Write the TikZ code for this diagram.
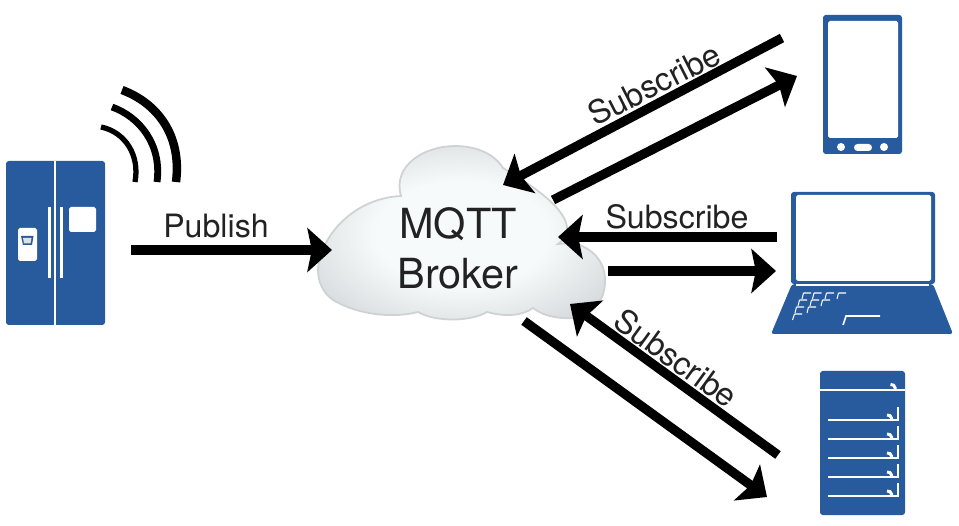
\documentclass[tikz,border=0pt]{standalone}
\usepackage{fontspec}
\setmainfont{TeX Gyre Heros}
\usetikzlibrary{arrows.meta}
\definecolor{iconblue}{HTML}{285B9E}
\definecolor{inktext}{HTML}{222222}
\definecolor{cloudedge}{HTML}{CDD2D4}
\definecolor{cloudcentre}{HTML}{F6FAFB}
\definecolor{cloudrim}{HTML}{D6DADC}
\pgfdeclareradialshading{cloudglow}{\pgfpointorigin}{
	color(0bp)=(cloudcentre);
	color(15bp)=(cloudcentre);
	color(31bp)=(cloudrim);
	color(50bp)=(cloudrim)
}
\tikzset{
	flow/.style={line width=5.3pt, black, -{Stealth[length=14pt,width=25pt,inset=2.5pt]}},
	wave/.style={black},
	icon/.style={fill=iconblue, rounded corners=1.6pt},
	cutout/.style={fill=white, rounded corners=1pt},
	thinline/.style={white, line width=.6pt},
	caption/.style={font=\fontsize{18.3}{20}\selectfont, text=inktext, inner sep=0pt},
	bigcaption/.style={font=\fontsize{23.6}{25}\selectfont, text=inktext, inner sep=0pt}
}
\begin{document}
\begin{tikzpicture}[x=.02cm, y=-.02cm]
	\useasboundingbox (0, 0) rectangle (959, 526);

	\draw[draw=cloudedge, line width=1pt, shading=cloudglow]
		(318, 270) .. controls (320, 235) and (355, 198) .. (401, 196)
		.. controls (392, 165) and (425, 146) .. (455, 146)
		.. controls (478, 146) and (495, 155) .. (503, 168)
		.. controls (520, 178) and (565, 205) .. (567, 227)
		.. controls (568, 233) and (566, 238) .. (558, 244)
		.. controls (568, 243) and (578, 243) .. (582, 246)
		.. controls (596, 252) and (606, 265) .. (605, 283)
		.. controls (604, 304) and (590, 316) .. (573, 318)
		.. controls (555, 319) and (542, 315) .. (533, 308)
		.. controls (522, 316) and (505, 317) .. (487, 312)
		.. controls (470, 322) and (435, 322) .. (418, 312)
		.. controls (395, 318) and (360, 316) .. (333, 300)
		.. controls (323, 293) and (318, 282) .. (318, 270) -- cycle;
	\node[bigcaption] (mqtt) at (458, 224) {MQTT};
	\node[bigcaption] (broker) at (458, 274) {Broker};

	\draw[wave, line width=3pt] (101, 127) .. controls (125, 132) and (140, 155) .. (135, 182);
	\draw[wave, line width=3.9pt] (112, 107) .. controls (140, 117) and (162, 145) .. (157, 182);
	\draw[wave, line width=4.8pt] (122, 90) .. controls (157, 103) and (182, 135) .. (176, 182);

	\fill[icon] (6, 161) rectangle (105, 325);
	\draw[white, line width=.9pt] (55, 161) -- (55, 325);
	\fill[white] (48, 207) rectangle (51, 278);
	\fill[white] (59.5, 207) rectangle (62.5, 278);
	\fill[cutout] (69, 207) rectangle (96, 232);
	\fill[cutout] (18, 228) rectangle (37, 261);
	\fill[iconblue] (21, 236) -- (33.5, 236) -- (32, 245) -- (23, 245) -- cycle;
	\fill[black!12] (23, 238) -- (31.5, 238) -- (30.5, 243.5) -- (24, 243.5) -- cycle;

	\fill[icon] (823, 15) rectangle (902, 154);
	\fill[cutout] (828, 21) rectangle (898, 138);
	\fill[white] (841, 147) circle (4);
	\fill[white] (884, 147) circle (4);
	\fill[white, rounded corners=2pt] (854, 144) rectangle (872, 151);

	\fill[icon] (791, 192) rectangle (935, 284);
	\fill[cutout] (796, 195) rectangle (931, 281);
	\fill[icon] (792, 284) -- (933, 284) -- (953, 334) -- (771, 334) -- cycle;
	\draw[white, line width=.7pt] (796, 285) -- (929, 285);
	\foreach \x in {802, 812.5, 825, 837}
		\draw[thinline] (\x + 1.5, 293) -- (\x + 9, 293) (\x + 1.5, 293) -- (\x, 299);
	\foreach \x in {798, 810, 821}
		\draw[thinline] (\x + 1.5, 300) -- (\x + 9, 300) (\x + 1.5, 300) -- (\x, 306);
	\foreach \x in {795, 807}
		\draw[thinline] (\x + 1.5, 307) -- (\x + 9, 307) (\x + 1.5, 307) -- (\x, 313);
	\draw[thinline] (794.5, 314) -- (802, 314) (794.5, 314) -- (792.5, 320);
	\draw[white, line width=.9pt] (843, 325) -- (846, 316) -- (880, 316);

	\fill[icon] (820, 371) rectangle (905, 515);
	\draw[white, line width=1pt] (820, 390) -- (905, 390);
	\draw[white, line width=1.7pt] (890.5, 384.5) arc[start angle=-100, end angle=20, radius=4];
	\foreach \y in {420, 439, 458, 477, 496}
		{
			\draw[white, line width=1pt] (828, \y) -- (898, \y) -- (898, \y - 13);
			\draw[white, line width=1.7pt] (887, \y - 5) arc[start angle=-100, end angle=20, radius=4];
		}

	\coordinate (pubtail) at (131, 250);
	\coordinate (pubtip) at (332, 250);
	\coordinate (phonein) at (782, 38);
	\coordinate (cloudphone) at (503, 185);
	\coordinate (cloudup) at (553, 200);
	\coordinate (phoneout) at (797, 76);
	\coordinate (laptopin) at (777, 237);
	\coordinate (cloudlaptop) at (558, 237);
	\coordinate (cloudmid) at (608, 271);
	\coordinate (laptopout) at (776, 271);
	\coordinate (serverin) at (778, 455);
	\coordinate (cloudserver) at (570, 304);
	\coordinate (cloudlow) at (524, 321);
	\coordinate (serverout) at (767, 497);

	\draw[flow] (pubtail) -- (pubtip);
	\draw[flow] (phonein) -- (cloudphone);
	\draw[flow] (cloudup) -- (phoneout);
	\draw[flow] (laptopin) -- (cloudlaptop);
	\draw[flow] (cloudmid) -- (laptopout);
	\draw[flow] (serverin) -- (cloudserver);
	\draw[flow] (cloudlow) -- (serverout);

	\node[caption] (publish) at (216, 226) {Publish};
	\node[caption, rotate=27] (subphone) at (654, 84) {Subscribe};
	\node[caption] (sublaptop) at (677, 217) {Subscribe};
	\node[caption, rotate=-36] (subserver) at (676, 358) {Subscribe};
\end{tikzpicture}
\end{document}
